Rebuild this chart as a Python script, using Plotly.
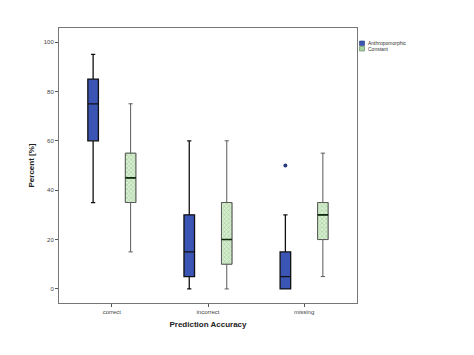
import plotly.graph_objects as go

categories = ["correct", "incorrect", "missing"]
series = ["Anthropomorphic", "Constant"]

anthro_low = [35, 0, 0]
anthro_q1 = [60, 5, 0]
anthro_med = [75, 15, 5]
anthro_q3 = [85, 30, 15]
anthro_high = [95, 60, 30]

const_low = [15, 0, 5]
const_q1 = [35, 10, 20]
const_med = [45, 20, 30]
const_q3 = [55, 35, 35]
const_high = [75, 60, 55]

outlier_cat = ["missing"]
outlier_val = [50]

OFF = 0.195
W = 0.11
BLUE = "#3b55b5"
GREEN_BG = "#d8eed2"
GREEN_FG = "#78b86c"

# page offset (default body margin) and target plot area in page px
PAGE = 8
L, R, T, B = 59 - PAGE, 357 - PAGE, 28 - PAGE, 303 - PAGE
PW, PH = R - L, B - T

idx = {c: i for i, c in enumerate(categories)}
xa = [idx[c] - OFF for c in categories]
xc = [idx[c] + OFF for c in categories]

fig = go.Figure()

fig.add_trace(go.Box(
    x=xa, q1=anthro_q1, median=anthro_med, q3=anthro_q3,
    lowerfence=anthro_low, upperfence=anthro_high,
    width=W, whiskerwidth=0.4, fillcolor=BLUE,
    line=dict(color="#111111", width=1.3),
    name=series[0], boxpoints=False, showlegend=False,
))

# hatched body for Constant boxes
fig.add_trace(go.Bar(
    x=xc, base=const_q1, y=[h - l for h, l in zip(const_q3, const_q1)],
    width=W,
    marker=dict(color=GREEN_BG, line=dict(color="#8aa884", width=0.7),
                pattern=dict(shape="x", fgcolor=GREEN_FG, bgcolor=GREEN_BG, size=3, solidity=0.4)),
    name=series[1], showlegend=False, hoverinfo="skip",
))

fig.add_trace(go.Box(
    x=xc, q1=const_q1, median=const_med, q3=const_q3,
    lowerfence=const_low, upperfence=const_high,
    width=W, whiskerwidth=0.4, fillcolor="rgba(0,0,0,0)",
    line=dict(color="#5a5a5a", width=1.0),
    name=series[1], boxpoints=False, showlegend=False,
))

# darker median lines for Constant
fig.add_trace(go.Box(
    x=xc, q1=const_med, median=const_med, q3=const_med,
    lowerfence=const_med, upperfence=const_med,
    width=W, whiskerwidth=0, fillcolor="rgba(0,0,0,0)",
    line=dict(color="#0d2a0d", width=1.6),
    boxpoints=False, showlegend=False, hoverinfo="skip",
))

fig.add_trace(go.Scatter(
    x=[idx[c] - OFF for c in outlier_cat], y=outlier_val, mode="markers",
    marker=dict(color="#2b3a7a", size=4), showlegend=False,
))

# manual compact legend (SPSS style), coordinates in page px
def px_x(p):
    return (p - PAGE - L) / PW

def px_y(p):
    return (B - (p - PAGE)) / PH

legend_items = [(series[0], BLUE, None), (series[1], GREEN_FG, "x")]
for i, (name, col, pat) in enumerate(legend_items):
    y0 = 41 + i * 5.5
    fig.add_shape(type="rect", xref="paper", yref="paper",
                  x0=px_x(359.5), x1=px_x(364.5), y0=px_y(y0 + 4.5), y1=px_y(y0),
                  fillcolor="#a8d49e" if pat else col,
                  line=dict(color="#5a7a5a" if pat else "#2a3a7a", width=0.6))
    fig.add_annotation(xref="paper", yref="paper", x=px_x(366), y=px_y(y0 + 2.3),
                       text=name, showarrow=False, xanchor="left", yanchor="middle",
                       font=dict(size=5, color="#333"))

fig.update_layout(
    width=474, height=355,
    margin=dict(l=L, r=474 - R, t=T, b=355 - B, autoexpand=False),
    paper_bgcolor="white", plot_bgcolor="white",
    font=dict(family="Arial, Liberation Sans, sans-serif", color="#333"),
    barmode="overlay", showlegend=False,
)
fig.update_xaxes(
    range=[-0.55, 2.55], tickmode="array", tickvals=list(range(len(categories))),
    ticktext=categories, ticks="outside", ticklen=3, tickcolor="#555",
    tickfont=dict(size=6, color="#444"), showgrid=False, zeroline=False,
    showline=True, linecolor="#777", linewidth=1, mirror=True, automargin=False,
    title=dict(text="<b>Prediction Accuracy</b>", font=dict(size=8, color="#222"), standoff=7),
)
fig.update_yaxes(
    range=[-5.7, 105.7], tickvals=[0, 20, 40, 60, 80, 100],
    ticks="outside", ticklen=3, tickcolor="#555",
    tickfont=dict(size=6, color="#444"), showgrid=False, zeroline=False,
    showline=True, linecolor="#777", linewidth=1, mirror=True, automargin=False,
    title=dict(text="<b>Percent [%]</b>", font=dict(size=8, color="#222"), standoff=7),
)

fig.write_html("out.html")
